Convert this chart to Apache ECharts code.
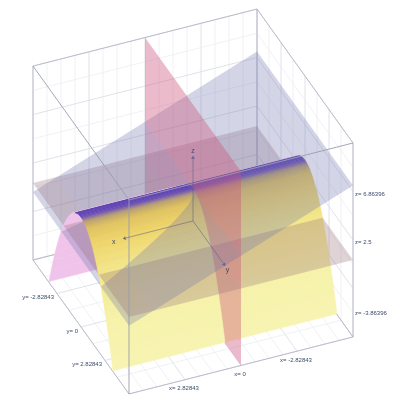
<!DOCTYPE html>
<html>
<head>
<meta charset="utf-8">
<script src="https://cdn.jsdelivr.net/npm/echarts@6/dist/echarts.min.js"></script>
<style>html,body{margin:0;background:#fff}#c{width:400px;height:403px}</style>
</head>
<body>
<div id="c"></div>
<script>
/* ---------- data ---------- */
const X_RANGE = [-5.65686, 5.65686];
const Y_RANGE = [-5.65686, 5.65686];
const Z_RANGE = [-6.228, 11.228];
const X_TICKS = [2.82843, 0, -2.82843];
const Y_TICKS = [-2.82843, 0, 2.82843];
const Z_TICKS = [6.86396, 2.5, -3.86396];
// ridge profile (same for every x)
const SURF_Y = [-3.77,-3.5,-3.25,-3,-2.75,-2.5,-2.25,-2,-1.8,-1.6,-1.4,-1.2,-1,-.9,-.8,-.7,-.6,-.5,-.4,-.3,-.2,-.1,0,
                .1,.2,.3,.4,.5,.6,.7,.8,.9,1,1.2,1.4,1.6,1.8,2,2.25,2.5,2.75,3,3.25,3.5,3.77];
const SURF_Z = [-6.16,-4.8,-3.64,-2.56,-1.57,-.66,.16,.89,1.41,1.88,2.3,2.66,2.96,3.09,3.21,3.31,3.4,3.48,3.54,3.59,3.62,3.64,3.65,
                3.64,3.62,3.59,3.54,3.48,3.4,3.31,3.21,3.09,2.96,2.66,2.3,1.88,1.41,.89,.16,-.66,-1.57,-2.56,-3.64,-4.8,-6.16];
const LEVEL_Z = 0.7;            // flat plane
const TILT_Z = [7.4, -0.1];     // tilted plane, z at x min / x max
const PLANE_X = 0;              // upright plane
const AXIS_ORIGIN = [0, 0, 0.75];
const AXIS_LEN = [3.4, 3.6, 5.6];

/* ---------- style ---------- */
const FONT = '"Liberation Sans", Arial, sans-serif';
const INK = '#3c4a6e';
const C_LEVEL = 'rgba(150,110,120,.3)', C_TILT = 'rgba(110,115,175,.3)', C_UP = 'rgba(205,85,125,.4)';
const C_UNDER = '#f0c4ea';
const SILHOUETTE_Y = -0.74;
const RAMP = [[-.74,'#5a3fb0'],[-.2,'#5f45b2'],[0,'#6a50b0'],[.15,'#8a70a0'],[.32,'#b8a070'],[.7,'#e0c460'],
              [1.3,'#efd66c'],[2.1,'#f4e88e'],[3,'#f6f2aa'],[3.77,'#f7f4b2']];

/* ---------- projection (orthographic, read from the box corners) ---------- */
const EX = [-19.8, 5.04], EY = [8.485, 11.84], EZ = [0, -11.11], CENTER = [193, 201.5];
const ZMID = (Z_RANGE[0] + Z_RANGE[1]) / 2;
const proj = p => [CENTER[0] + p[0]*EX[0] + p[1]*EY[0],
                   CENTER[1] + p[0]*EX[1] + p[1]*EY[1] + (p[2]-ZMID)*EZ[1]];
// direction towards the viewer = kernel of the projection
const VIEW = (() => {
  const vy = -EX[0]/EY[0];
  return [1, vy, -(EX[1]+vy*EY[1])/EZ[1]];
})();

function surfColor(y){
  if(y < SILHOUETTE_Y) return C_UNDER;
  for(let i=1;i<RAMP.length;i++){
    if(y <= RAMP[i][0]){
      const t=(y-RAMP[i-1][0])/(RAMP[i][0]-RAMP[i-1][0]);
      return echarts.color.lerp(t,[RAMP[i-1][1],RAMP[i][1]]);
    }
  }
  return RAMP[RAMP.length-1][1];
}

/* ---------- polygons + depth ordering ---------- */
const [x0,x1]=X_RANGE, [y0,y1]=Y_RANGE, [z0,z1]=Z_RANGE;
const polys=[];
SURF_Y.slice(0,-1).forEach((y,i)=>{
  const y2=SURF_Y[i+1], z=SURF_Z[i], z2=SURF_Z[i+1];
  polys.push({pts:[[x0,y,z],[x1,y,z],[x1,y2,z2],[x0,y2,z2]],solid:true,order:y,
    from:[0,y,z],to:[0,y2,z2],c1:surfColor(y),c2:surfColor(y2)});
});
const upright={pts:[[PLANE_X,y0,z0],[PLANE_X,y1,z0],[PLANE_X,y1,z1],[PLANE_X,y0,z1]],fill:C_UP,plane:0};
const level={pts:[[x0,y0,LEVEL_Z],[x1,y0,LEVEL_Z],[x1,y1,LEVEL_Z],[x0,y1,LEVEL_Z]],fill:C_LEVEL,plane:1};
const tilt={pts:[[x0,y0,TILT_Z[0]],[x1,y0,TILT_Z[1]],[x1,y1,TILT_Z[1]],[x0,y1,TILT_Z[0]]],fill:C_TILT,plane:2};
polys.push(upright,level,tilt);

const tiltSlope=(TILT_Z[1]-TILT_Z[0])/(x1-x0), tiltMid=(TILT_Z[0]+TILT_Z[1])/2;
const SPLITTERS=[
  {n:[1,0,0],d:PLANE_X},
  {n:[0,0,1],d:LEVEL_Z},
  {n:[-tiltSlope,0,1],d:tiltMid}
];
const side=(s,p)=>s.n[0]*p[0]+s.n[1]*p[1]+s.n[2]*p[2]-s.d;

function clip(pts,s,sign){
  const out=[];
  pts.forEach((a,i)=>{
    const b=pts[(i+1)%pts.length], da=side(s,a)*sign, db=side(s,b)*sign;
    if(da>=0) out.push(a);
    if((da>0&&db<0)||(da<0&&db>0)){
      const t=da/(da-db);
      out.push([a[0]+(b[0]-a[0])*t,a[1]+(b[1]-a[1])*t,a[2]+(b[2]-a[2])*t]);
    }
  });
  return out;
}

function order(list,i){
  if(i===SPLITTERS.length){
    // inside one cell: the ridge back to front, then any plane piece
    return list.slice().sort((a,b)=>(a.order??1e3)-(b.order??1e3));
  }
  const s=SPLITTERS[i], neg=[], pos=[], on=[];
  list.forEach(p=>{
    if(p.plane===i){on.push(p);return;}
    const a=clip(p.pts,s,1), b=clip(p.pts,s,-1);
    if(a.length>2) pos.push({...p,pts:a});
    if(b.length>2) neg.push({...p,pts:b});
  });
  const facing=s.n[0]*VIEW[0]+s.n[1]*VIEW[1]+s.n[2]*VIEW[2]>0;
  const [far,near]=facing?[neg,pos]:[pos,neg];
  return [...order(far,i+1),...on,...order(near,i+1)];
}
const pieces=order(polys,0);

/* ---------- grid walls ---------- */
const XDIV=16, YDIV=8, ZDIV=8;
const gridSegs=[];
const at=(r,k,n)=>r[0]+(r[1]-r[0])*k/n;
for(let k=0;k<=XDIV;k++){
  const x=at(X_RANGE,k,XDIV), major=k%4===0;
  gridSegs.push({a:[x,y0,z0],b:[x,y0,z1],major},{a:[x,y0,z0],b:[x,y1,z0],major});
}
for(let k=0;k<=YDIV;k++){
  const y=at(Y_RANGE,k,YDIV), major=k%2===0;
  gridSegs.push({a:[x0,y,z0],b:[x0,y,z1],major},{a:[x0,y,z0],b:[x1,y,z0],major});
}
for(let k=0;k<=ZDIV;k++){
  const z=at(Z_RANGE,k,ZDIV), major=k%2===0;
  gridSegs.push({a:[x0,y0,z],b:[x1,y0,z],major},{a:[x0,y0,z],b:[x0,y1,z],major});
}
const boxBack=[
  [[x1,y0,z0],[x0,y0,z0]],[[x0,y0,z0],[x0,y1,z0]],[[x0,y0,z0],[x0,y0,z1]],
  [[x1,y0,z1],[x0,y0,z1]],[[x0,y0,z1],[x0,y1,z1]],
  [[x1,y0,z0],[x1,y0,z1]],[[x0,y1,z0],[x0,y1,z1]],
  [[x1,y0,z0],[x1,y1,z0]],[[x1,y1,z0],[x0,y1,z0]]
];
const boxFront=[
  [[x1,y1,z0],[x1,y1,z1]],[[x1,y0,z1],[x1,y1,z1]],[[x1,y1,z1],[x0,y1,z1]]
];

/* ---------- labels: tick position + small offset ---------- */
const labels=[
  ...Y_TICKS.map(y=>({t:`y= ${y}`,p:[x1,y,z0],dx:-3,dy:4,align:'right'})),
  ...X_TICKS.map(x=>({t:`x= ${x}`,p:[x,y1,z0],dx:-1,dy:9,align:'center'})),
  ...Z_TICKS.map(z=>({t:`z= ${z}`,p:[x0,y1,z],dx:2,dy:2.5,align:'left'}))
];
const axisEnds=[0,1,2].map(i=>{const e=AXIS_ORIGIN.slice();e[i]+=AXIS_LEN[i];return e;});

/* ---------- chart ---------- */
const pt=(api,p)=>api.coord(proj(p));
const seg=(api,a,b,color,w)=>{
  const A=pt(api,a), B=pt(api,b);
  return {type:'line',shape:{x1:A[0],y1:A[1],x2:B[0],y2:B[1]},style:{stroke:color,lineWidth:w}};
};
const items=arr=>arr.map((_,i)=>[i]);

function arrow(api,a,b){
  const A=pt(api,a), B=pt(api,b), l=Math.hypot(B[0]-A[0],B[1]-A[1]), ux=(B[0]-A[0])/l, uy=(B[1]-A[1])/l;
  return {type:'polygon',shape:{points:[[B[0]+ux*3,B[1]+uy*3],[B[0]-uy*2,B[1]+ux*2],[B[0]+uy*2,B[1]-ux*2]]},
    style:{fill:'#55598f',opacity:.85}};
}
// colour along the strip, level lines running with the x direction
function stripFill(api,p){
  if(p.c1===p.c2) return p.c1;
  const A=pt(api,p.from), B=pt(api,p.to), nx=-EX[1], ny=EX[0], n2=nx*nx+ny*ny;
  const k=((B[0]-A[0])*nx+(B[1]-A[1])*ny)/n2;
  return new echarts.graphic.LinearGradient(A[0],A[1],A[0]+k*nx,A[1]+k*ny,
    [{offset:0,color:p.c1},{offset:1,color:p.c2}],true);
}

const chart=echarts.init(document.getElementById('c'),null,{renderer:'canvas'});
chart.setOption({
  animation:false,
  grid:{left:0,right:0,top:0,bottom:0},
  xAxis:{type:'value',min:0,max:400,show:false},
  yAxis:{type:'value',min:0,max:403,inverse:true,show:false},
  series:[
    {type:'custom',clip:false,silent:true,z:1,data:items(gridSegs),
      renderItem:(params,api)=>{const s=gridSegs[params.dataIndex];
        return seg(api,s.a,s.b,s.major?'#d9dbe5':'#ecedf2',.8);}},
    {type:'custom',clip:false,silent:true,z:2,data:items(boxBack),
      renderItem:(params,api)=>{const s=boxBack[params.dataIndex];
        return seg(api,s[0],s[1],'#b0b2c2',.8);}},
    {type:'custom',clip:false,silent:true,z:3,data:items(pieces),
      renderItem:(params,api)=>{const p=pieces[params.dataIndex];
        const f=p.solid?stripFill(api,p):p.fill;
        return {type:'polygon',shape:{points:p.pts.map(q=>pt(api,q))},
          style:p.solid?{fill:f,stroke:f,lineWidth:.5}:{fill:f}};}},
    {type:'custom',clip:false,silent:true,z:4,data:items(boxFront),
      renderItem:(params,api)=>{const s=boxFront[params.dataIndex];
        return seg(api,s[0],s[1],'#9b9dae',.9);}},
    {type:'custom',clip:false,silent:true,z:5,data:items(axisEnds),
      renderItem:(params,api)=>{const e=axisEnds[params.dataIndex];
        return {type:'group',children:[seg(api,AXIS_ORIGIN,e,'rgba(85,89,130,.65)',.8),arrow(api,AXIS_ORIGIN,e)]};}},
    {type:'custom',clip:false,silent:true,z:6,data:items(['x','y','z']),
      renderItem:(params,api)=>{const i=params.dataIndex, q=pt(api,axisEnds[i]), off=[[-12,4],[4,6],[0,-8]][i];
        return {type:'text',style:{text:'xyz'[i],x:q[0]+off[0],y:q[1]+off[1],font:`7px ${FONT}`,fill:INK,align:'center',verticalAlign:'middle'}};}},
    {type:'custom',clip:false,silent:true,z:6,data:items(labels),
      renderItem:(params,api)=>{const l=labels[params.dataIndex], q=pt(api,l.p);
        return {type:'text',style:{text:l.t,x:q[0]+l.dx,y:q[1]+l.dy,font:`6px ${FONT}`,fill:INK,align:l.align,verticalAlign:'middle'}};}}
  ]
});
window.addEventListener('resize',()=>chart.resize());
</script>
</body>
</html>
